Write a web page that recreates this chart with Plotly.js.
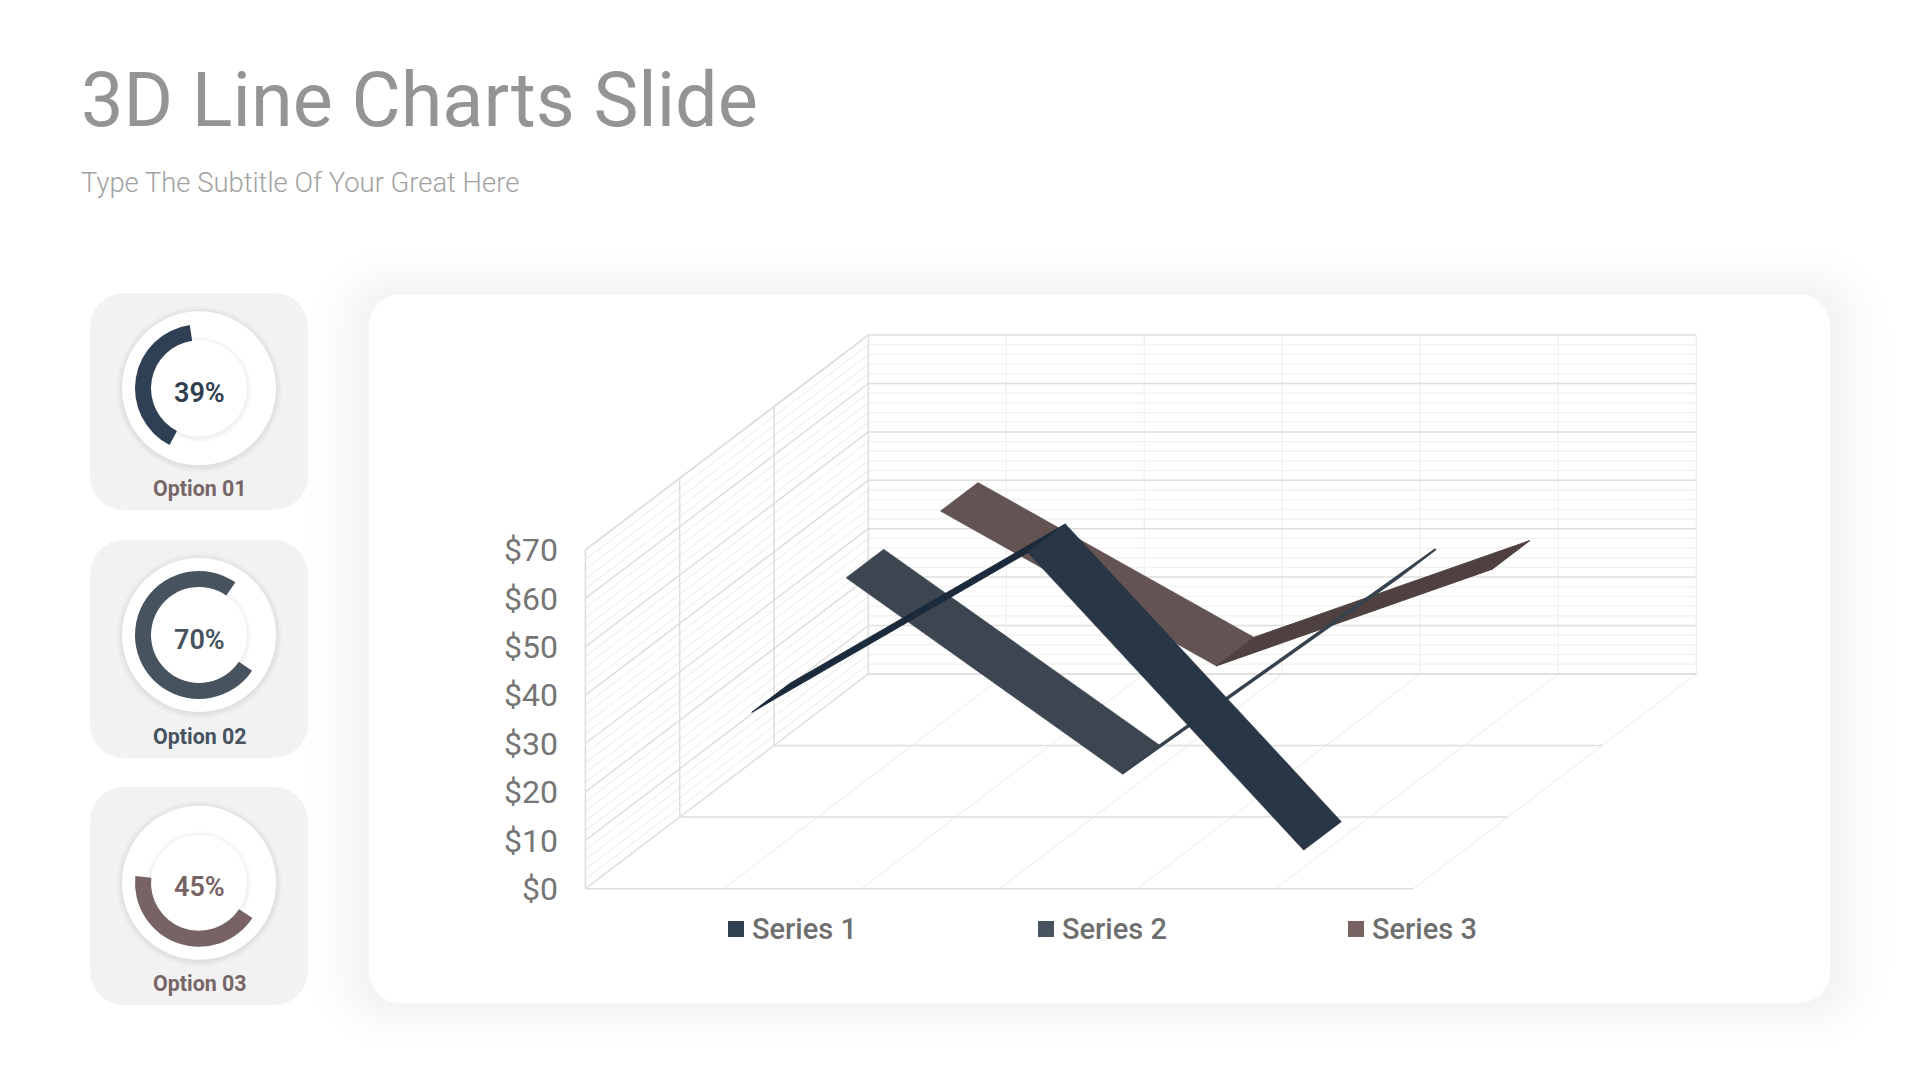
<!DOCTYPE html>
<html><head><meta charset="utf-8">
<script src="https://cdn.plot.ly/plotly-3.0.1.min.js"></script>
<style>html,body{margin:0;padding:0;background:#fff}#c{width:1920px;height:1080px}</style>
</head><body><div id="c"></div>
<script>
// ---- data ----
const titleText = '3D Line Charts Slide';
const subtitleText = 'Type The Subtitle Of Your Great Here';
const seriesNames = ['Series 1', 'Series 2', 'Series 3'];
const categoryPositions = [1, 3, 5];
const series1 = [32, 65, 3.5];
const series2 = [45, 4.5, 45];
const series3 = [44, 12, 32];
const yTicks = [0, 10, 20, 30, 40, 50, 60, 70];
const yTickText = ['$0', '$10', '$20', '$30', '$40', '$50', '$60', '$70'];
const xDivisions = [0, 1, 2, 3, 4, 5, 6];
const depthPlanes = [0, 1, 2, 3];
const optionLabels = ['Option 01', 'Option 02', 'Option 03'];
const percentLabels = ['39%', '70%', '45%'];
const ringShare = [40.1, 75.2, 42.4];
const ringStart = [207.4, 123.9, 123.4];

// ---- styles ----
const W = 1920, H = 1080;
const pxX = 138, pxY = 4.84, originX = 585.4, originY = 888.7;
const depthDX = 94.3 / pxX, depthDY = 71.6 / pxY;   // one series step of depth, in axis units
const legendColors = ['#324150', '#47535e', '#776264'];
const legendSwatchX = [728, 1038, 1348];
const ribbonColors = [['#1b2b3b', '#283645'], ['#3d4650', '#36424d'], ['#635352', '#4f4140']];
const ribbonStroke = [[1, 0.5], [0.5, 2], [0.5, 1]];
const optionColors = ['#776668', '#47535e', '#776668'];
const percentColors = ['#2e3e50', '#47535e', '#776264'];
const ringColors = ['#2f4054', '#47535e', '#776264'];
const cardTops = [293, 540, 787], cardBottoms = [510, 758, 1005];
const ringCY = [388.3, 635, 882.8];
const panelShadowSteps = [60, 50, 43, 37, 32, 27, 22, 18, 14, 10, 6];

const gx = (x, z) => x + z * depthDX;
const gy = (y, z) => y + z * depthDY;

function gridTrace(segs, color, width) {
  const xs = [], ys = [];
  segs.forEach(s => { xs.push(gx(s[0], s[1]), gx(s[3], s[4]), null); ys.push(gy(s[2], s[1]), gy(s[5], s[4]), null); });
  return {type: 'scatter', mode: 'lines', x: xs, y: ys, line: {color, width}, hoverinfo: 'skip', showlegend: false};
}
const backZ = depthPlanes[depthPlanes.length - 1];
const xMax = xDivisions[xDivisions.length - 1];
const yMax = yTicks[yTicks.length - 1];
const minor = [], major = [];
for (let v = 0; v <= yMax; v += 2) {
  const seg = [[0, 0, v, 0, backZ, v], [0, backZ, v, xMax, backZ, v]];
  (v % 10 === 0 ? major : minor).push(...seg);
}
const lightV = [];
xDivisions.forEach(x => {
  if (x > 0) { lightV.push([x, 0, 0, x, backZ, 0]); lightV.push([x, backZ, 0, x, backZ, yMax]); }
});
const planes = [];
depthPlanes.forEach(z => {
  planes.push([0, z, 0, xMax, z, 0]);
  planes.push([0, z, 0, 0, z, yMax]);
});
planes.push([0, 0, yMax, 0, backZ, yMax]);

const traces = [
  gridTrace(minor, '#f1f1f1', 1.3),
  gridTrace(lightV, '#f1f1f1', 1.3),
  gridTrace(major, '#dedede', 1.5),
  gridTrace(planes, '#dedede', 1.5),
];

function ribbon(values, step, colors, strokes) {
  const zf = step + 0.3, zb = step + 0.7;
  for (let i = 0; i < values.length - 1; i++) {
    const x0 = categoryPositions[i], x1 = categoryPositions[i + 1], a = values[i], b = values[i + 1];
    traces.push({
      type: 'scatter', mode: 'lines', fill: 'toself', fillcolor: colors[i],
      x: [gx(x0, zf), gx(x1, zf), gx(x1, zb), gx(x0, zb), gx(x0, zf)],
      y: [gy(a, zf), gy(b, zf), gy(b, zb), gy(a, zb), gy(a, zf)],
      line: {color: colors[i], width: strokes[i]}, hoverinfo: 'skip', showlegend: false
    });
  }
}
ribbon(series3, 2, ribbonColors[2], ribbonStroke[2]);
ribbon(series2, 1, ribbonColors[1], ribbonStroke[1]);
ribbon(series1, 0, ribbonColors[0], ribbonStroke[0]);

// rings
const ringR = 64;
percentLabels.forEach((p, i) => traces.push({
  type: 'pie', values: [ringShare[i], 100 - ringShare[i]], sort: false, direction: 'clockwise',
  rotation: ringStart[i], hole: 0.75, textinfo: 'none', hoverinfo: 'skip', showlegend: false,
  marker: {colors: [ringColors[i], 'rgba(0,0,0,0)'], line: {width: 0}},
  domain: {x: [(199 - ringR) / W, (199 + ringR) / W], y: [1 - (ringCY[i] + ringR) / H, 1 - (ringCY[i] - ringR) / H]}
}));

// backgrounds
const shapes = [];
function rr(x0, y0, x1, y1, r, fill) {
  const pts = [];
  const arc = (cx, cy, a0) => { for (let k = 0; k <= 8; k++) { const a = (a0 + k * 90 / 8) * Math.PI / 180; pts.push([(cx + r * Math.cos(a)) / W, 1 - (cy + r * Math.sin(a)) / H]); } };
  arc(x1 - r, y0 + r, -90); arc(x1 - r, y1 - r, 0); arc(x0 + r, y1 - r, 90); arc(x0 + r, y0 + r, 180);
  const path = 'M' + pts.map(q => q[0] + ',' + q[1]).join(' L') + ' Z';
  shapes.push({type: 'path', xref: 'paper', yref: 'paper', layer: 'below', path, fillcolor: fill, line: {width: 0}});
}
function circ(cx, cy, r, fill) {
  shapes.push({type: 'circle', xref: 'paper', yref: 'paper', layer: 'below',
    x0: (cx - r) / W, x1: (cx + r) / W, y0: 1 - (cy + r) / H, y1: 1 - (cy - r) / H, fillcolor: fill, line: {width: 0}});
}
// big panel with a soft shadow: each layer darkens the page by one 8-bit level
panelShadowSteps.forEach(s => rr(369 - s, 294.5 - 0.75 * s, 1830 + s, 1003 + 0.75 * s, 31 + 0.8 * s, 'rgba(0,0,0,0.0045)'));
rr(369, 294.5, 1830, 1003, 31, '#ffffff');
cardTops.forEach((t, i) => {
  rr(90, t, 308, cardBottoms[i], 34, '#f2f2f2');
  for (let s = 6; s > 0; s--) circ(199, ringCY[i] + 1, 77 + s, 'rgba(0,0,0,0.010)');
  circ(199, ringCY[i], 77, '#ffffff');
  for (let s = 5; s > 0; s--) circ(199, ringCY[i] + 1, 48 + s, 'rgba(0,0,0,0.010)');
  circ(199, ringCY[i], 48, '#ffffff');
});
// legend swatches
seriesNames.forEach((n, i) => shapes.push({type: 'rect', xref: 'paper', yref: 'paper', layer: 'above',
  x0: legendSwatchX[i] / W, x1: (legendSwatchX[i] + 16) / W, y0: 1 - 937 / H, y1: 1 - 921 / H, fillcolor: legendColors[i], line: {width: 0}}));

const fnt = (size, color, weight) => ({family: 'Roboto', size, color, weight: weight || 400});
const annotations = [
  {text: titleText, x: 79 / W, y: 1 - 100 / H, font: fnt(75.6, '#949494')},
  {text: subtitleText, x: 79 / W, y: 1 - 183 / H, font: fnt(27.4, '#a2a2a2', 300)},
].map(a => Object.assign(a, {xref: 'paper', yref: 'paper', xanchor: 'left', yanchor: 'middle', showarrow: false}));
optionLabels.forEach((t, i) => {
  annotations.push({text: t, x: 200 / W, y: 1 - (cardBottoms[i] - 22) / H, xref: 'paper', yref: 'paper', showarrow: false, xanchor: 'center', yanchor: 'middle', font: fnt(21.4, optionColors[i], 700)});
  annotations.push({text: percentLabels[i], x: 199 / W, y: 1 - (ringCY[i] + 4.5) / H, xref: 'paper', yref: 'paper', showarrow: false, xanchor: 'center', yanchor: 'middle', font: fnt(27, percentColors[i], 600)});
});
seriesNames.forEach((n, i) => annotations.push({text: n, x: (legendSwatchX[i] + 22) / W, y: 1 - 928.5 / H, xref: 'paper', yref: 'paper', showarrow: false,
  xanchor: 'left', yanchor: 'middle', font: fnt(29, '#6e6e6e', 500)}));

const layout = {
  width: W, height: H, margin: {l: 0, r: 0, t: 0, b: 0}, paper_bgcolor: '#ffffff', plot_bgcolor: 'rgba(0,0,0,0)',
  xaxis: {range: [-originX / pxX, (W - originX) / pxX], domain: [0, 1], visible: false, fixedrange: true},
  yaxis: {range: [(originY - H) / pxY, originY / pxY], domain: [0, 1], anchor: 'free', position: originX / W, side: 'left',
    tickmode: 'array', tickvals: yTicks, ticktext: yTickText, showgrid: false, zeroline: false, showline: false,
    ticks: 'outside', ticklen: 21, tickcolor: 'rgba(0,0,0,0)', tickfont: fnt(32, '#757575'), fixedrange: true},
  showlegend: false,
  shapes, annotations, hovermode: false
};
Plotly.newPlot('c', traces, layout, {displayModeBar: false, staticPlot: true});
</script></body></html>
